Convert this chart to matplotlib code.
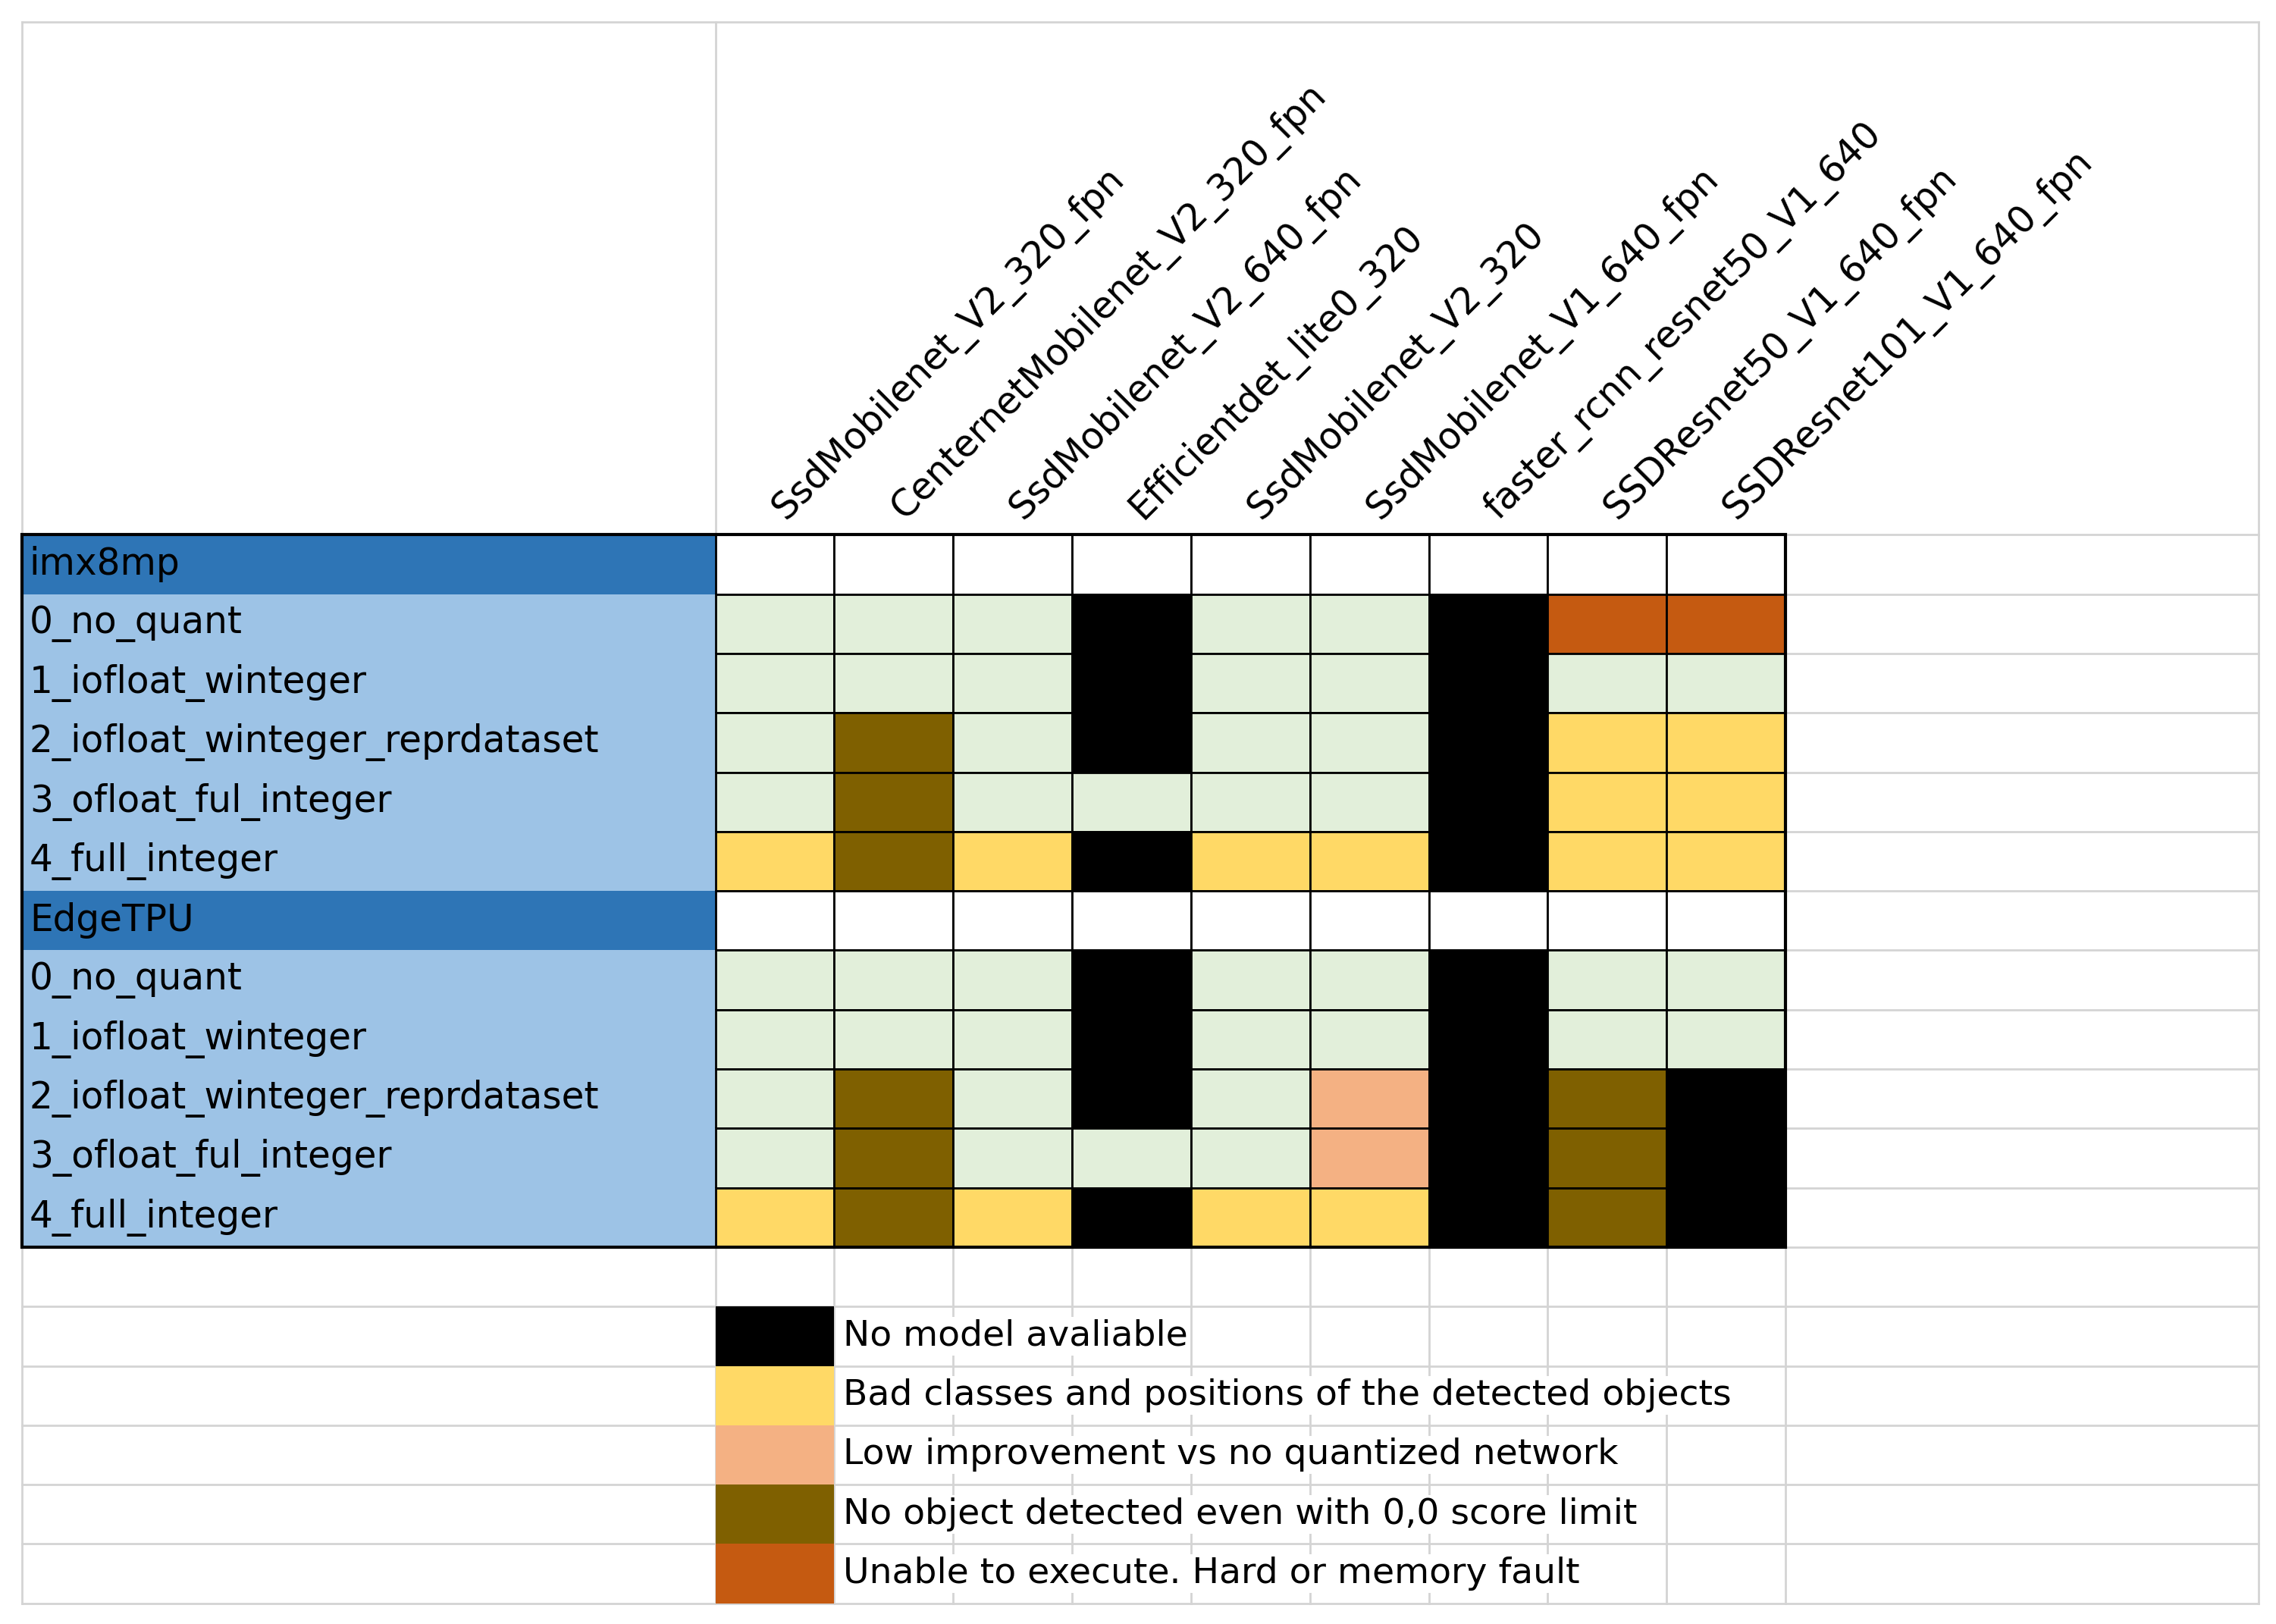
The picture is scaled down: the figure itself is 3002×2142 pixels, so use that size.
import numpy as np
import matplotlib.pyplot as plt

# data
MODELS = ["SsdMobilenet_V2_320_fpn", "CenternetMobilenet_V2_320_fpn",
          "SsdMobilenet_V2_640_fpn", "Efficientdet_lite0_320",
          "SsdMobilenet_V2_320", "SsdMobilenet_V1_640_fpn",
          "faster_rcnn_resnet50_V1_640", "SSDResnet50_V1_640_fpn",
          "SSDResnet101_V1_640_fpn"]
QUANTS = ["0_no_quant", "1_iofloat_winteger", "2_iofloat_winteger_reprdataset",
          "3_ofloat_ful_integer", "4_full_integer"]
DEVICES = ["imx8mp", "EdgeTPU"]
# codes: G ok, K no model, Y bad classes, S low improvement, B no object, O unable to execute
IMX8MP = ["GGGKGGKOO",
          "GGGKGGKGG",
          "GBGKGGKYY",
          "GBGGGGKYY",
          "YBYKYYKYY"]
EDGETPU = ["GGGKGGKGG",
           "GGGKGGKGG",
           "GBGKGSKBK",
           "GBGGGSKBK",
           "YBYKYYKBK"]
LEGEND_CODES = ["K", "Y", "S", "B", "O"]
LEGEND_TEXT = ["No model avaliable",
               "Bad classes and positions of the detected objects",
               "Low improvement vs no quantized network",
               "No object detected even with 0,0 score limit",
               "Unable to execute. Hard or memory fault"]

COLORS = {"G": "#E2EFDA", "K": "#000000", "Y": "#FFD966", "S": "#F4B183",
          "B": "#7F6000", "O": "#C55A11", "W": "#FFFFFF"}

plt.rcParams["font.family"] = ["DejaVu Sans"]

S = 3002 / 1562  # reference pixel scale
X0, XA, CW, XEND = 15 * S, 491 * S, 81.6 * S, 1550 * S
Y0, YH, RH = 15 * S, 367 * S, 40.74 * S
NC = len(MODELS)
NR = 2 * (len(QUANTS) + 1)
XR = XA + NC * CW
YB = YH + NR * RH

fig = plt.figure(figsize=(30.02, 21.42), dpi=100)
ax = fig.add_axes([0, 0, 1, 1])
ax.set_xlim(0, 3002)
ax.set_ylim(2142, 0)
ax.axis("off")

grid = "#D4D4D4"
n_rows_total = NR + 1 + len(LEGEND_CODES)
# sheet grid
for i in range(n_rows_total + 1):
    y = YH + i * RH
    ax.plot([X0, XEND], [y, y], color=grid, lw=2, zorder=1)
ax.plot([X0, XEND], [Y0, Y0], color=grid, lw=2, zorder=1)
for x in [X0, XA] + [XA + j * CW for j in range(1, NC + 1)] + [XEND]:
    top = Y0 if x in (X0, XA, XEND) else YH
    ax.plot([x, x], [top, YH + n_rows_total * RH], color=grid, lw=2, zorder=1)

def cell(x, y, w, h, color, edge="black", lw=2, z=3):
    ax.add_patch(plt.Rectangle((x, y), w, h, facecolor=color, edgecolor=edge,
                               lw=lw, zorder=z))

FS = 35
r = 0
for dev, data in zip(DEVICES, [IMX8MP, EDGETPU]):
    y = YH + r * RH
    cell(X0, y, XA - X0, RH, "#2E75B6", edge="none")
    ax.text(X0 + 10, y + RH / 2, dev, fontsize=FS, va="center", ha="left", zorder=5)
    for j in range(NC):
        cell(XA + j * CW, y, CW, RH, COLORS["W"])
    r += 1
    for q, row in zip(QUANTS, data):
        y = YH + r * RH
        cell(X0, y, XA - X0, RH, "#9DC3E6", edge="none")
        ax.text(X0 + 10, y + RH / 2, q, fontsize=FS, va="center", ha="left", zorder=5)
        for j, c in enumerate(row):
            cell(XA + j * CW, y, CW, RH, COLORS[c])
        r += 1

ax.add_patch(plt.Rectangle((X0, YH), XR - X0, YB - YH, facecolor="none",
                           edgecolor="black", lw=3, zorder=6))

# column headers
for j, m in enumerate(MODELS):
    ax.text(XA + j * CW + 48 * S, YH - 10 * S, m, rotation=45, rotation_mode="anchor",
            ha="left", va="baseline", fontsize=35, zorder=5)

# legend
for k, (c, t) in enumerate(zip(LEGEND_CODES, LEGEND_TEXT)):
    y = YB + (k + 1) * RH
    cell(XA, y, CW, RH, COLORS[c], edge="none")
    ax.text(XA + CW + 6 * S, y + RH / 2, t, fontsize=34, va="center", ha="left",
            zorder=5, bbox=dict(facecolor="white", edgecolor="none", pad=2))

fig.savefig("out.png", dpi=100)
